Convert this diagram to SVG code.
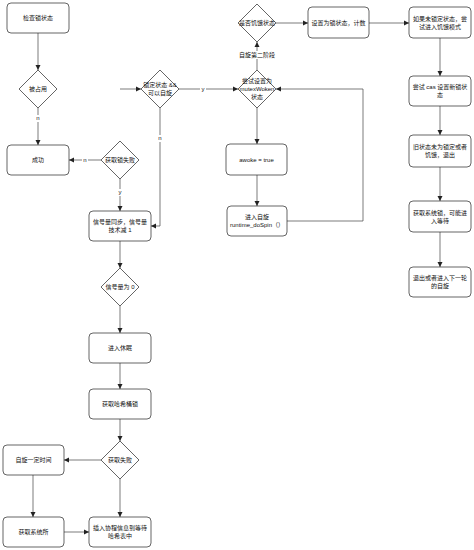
<svg xmlns="http://www.w3.org/2000/svg" width="474" height="550" viewBox="0 0 474 550">
<defs>
<marker id="ah" markerWidth="6" markerHeight="6" refX="5" refY="3" orient="auto" markerUnits="userSpaceOnUse"><path d="M0,0.5 L5,3 L0,5.5 Z" fill="#222"/></marker>
<style>
.box{fill:#fff;stroke:#222;stroke-width:0.7}
.dia{fill:#fff;stroke:#222;stroke-width:0.7}
.t{font-family:'Liberation Sans','Noto Sans CJK SC',sans-serif;font-size:6px;fill:#111;text-anchor:middle;dominant-baseline:central}
.ln{fill:none;stroke:#444;stroke-width:0.7;marker-end:url(#ah)}
.lb{fill:#fff}
</style>
</defs>
<rect width="474" height="550" fill="#fff"/>
<g id="connectors">
<path class="ln" d="M38,33 V70"/>
<path class="ln" d="M38,108 V145"/>
<path class="ln" d="M120,89 H141"/>
<path class="ln" d="M179,89 H238"/>
<path class="ln" d="M160,108 V226 H151"/>
<path class="ln" d="M101,160 H69"/>
<path class="ln" d="M120,179 V211"/>
<path class="ln" d="M257,70 V42"/>
<path class="ln" d="M276,23 H308"/>
<path class="ln" d="M369,23 H409"/>
<path class="ln" d="M440,38 V76"/>
<path class="ln" d="M440,106 V135"/>
<path class="ln" d="M440,167 V201"/>
<path class="ln" d="M440,232 V267"/>
<path class="ln" d="M257,108 V144"/>
<path class="ln" d="M257,175 V206"/>
<path class="ln" d="M287,221 H363 V89 H276"/>
<path class="ln" d="M120,241 V268"/>
<path class="ln" d="M120,306 V333"/>
<path class="ln" d="M120,363 V389"/>
<path class="ln" d="M120,419 V441"/>
<path class="ln" d="M101,460 H64"/>
<path class="ln" d="M120,479 V517"/>
<path class="ln" d="M33,475 V517"/>
<path class="ln" d="M64,532 H89"/>
<rect class="lb" x="35" y="115" width="6" height="7"/><text class="t" x="38" y="118">n</text>
<rect class="lb" x="200" y="86" width="6" height="7"/><text class="t" x="203" y="89">y</text>
<rect class="lb" x="157" y="135" width="6" height="7"/><text class="t" x="160" y="138">n</text>
<rect class="lb" x="82" y="157" width="6" height="7"/><text class="t" x="85" y="160">n</text>
<rect class="lb" x="117" y="189" width="6" height="7"/><text class="t" x="120" y="192">y</text>
<rect class="lb" x="238" y="51" width="38" height="8"/><text class="t" x="257" y="55">自旋第二阶段</text>
</g>
<g id="n1"><rect class="box" x="7" y="3" width="62" height="30" rx="4"/><text class="t" x="38" y="18">检查锁状态</text></g>
<g id="n2"><path class="dia" d="M38,70 L57,89 L38,108 L19,89 Z"/><text class="t" x="38" y="89">被占用</text></g>
<g id="n3"><rect class="box" x="7" y="145" width="62" height="30" rx="4"/><text class="t" x="38" y="160">成功</text></g>
<g id="n4"><path class="dia" d="M120,141 L139,160 L120,179 L101,160 Z"/><text class="t" x="120" y="160">获取锁失败</text></g>
<g id="n5"><rect class="box" x="89" y="211" width="62" height="30" rx="4"/><text class="t" x="120" y="222">信号量同步，信号量</text><text class="t" x="120" y="230">技术减 1</text></g>
<g id="n6"><path class="dia" d="M120,268 L139,287 L120,306 L101,287 Z"/><text class="t" x="120" y="287">信号量为 0</text></g>
<g id="n7"><rect class="box" x="89" y="333" width="62" height="30" rx="4"/><text class="t" x="120" y="348">进入休眠</text></g>
<g id="n8"><rect class="box" x="89" y="389" width="62" height="30" rx="4"/><text class="t" x="120" y="404">获取哈希桶锁</text></g>
<g id="n9"><path class="dia" d="M120,441 L139,460 L120,479 L101,460 Z"/><text class="t" x="120" y="460">获取失败</text></g>
<g id="n10"><rect class="box" x="3" y="445" width="61" height="30" rx="4"/><text class="t" x="33.5" y="460">自旋一定时间</text></g>
<g id="n11"><rect class="box" x="3" y="517" width="61" height="30" rx="4"/><text class="t" x="33.5" y="532">获取系统所</text></g>
<g id="n12"><rect class="box" x="89" y="517" width="62" height="30" rx="4"/><text class="t" x="120" y="528">插入协程信息到等待</text><text class="t" x="120" y="536">哈希表中</text></g>
<g id="n13"><path class="dia" d="M160,70 L179,89 L160,108 L141,89 Z"/><text class="t" x="160" y="85">锁定状态 &amp;&amp;</text><text class="t" x="160" y="93">可以自旋</text></g>
<g id="n14"><path class="dia" d="M257,70 L276,89 L257,108 L238,89 Z"/><text class="t" x="257" y="81">尝试设置为</text><text class="t" x="257" y="89">mutexWoken</text><text class="t" x="257" y="97">状态</text></g>
<g id="n15"><path class="dia" d="M257,4 L276,23 L257,42 L238,23 Z"/><text class="t" x="257" y="23">是否饥饿状态</text></g>
<g id="n16"><rect class="box" x="308" y="7" width="61" height="31" rx="4"/><text class="t" x="338.5" y="22.5">设置为锁状态，计数</text></g>
<g id="n17"><rect class="box" x="409" y="7" width="62" height="31" rx="4"/><text class="t" x="440" y="18.5">如果未锁定状态，尝</text><text class="t" x="440" y="26.5">试进入饥饿模式</text></g>
<g id="n18"><rect class="box" x="409" y="76" width="62" height="30" rx="4"/><text class="t" x="440" y="87">尝试 cas 设置新锁状</text><text class="t" x="440" y="95">态</text></g>
<g id="n19"><rect class="box" x="409" y="135" width="62" height="32" rx="4"/><text class="t" x="440" y="147">旧状态未为锁定或者</text><text class="t" x="440" y="155">饥饿，退出</text></g>
<g id="n20"><rect class="box" x="409" y="201" width="62" height="31" rx="4"/><text class="t" x="440" y="212.5">获取系统锁，可能进</text><text class="t" x="440" y="220.5">入等待</text></g>
<g id="n21"><rect class="box" x="409" y="267" width="62" height="30" rx="4"/><text class="t" x="440" y="278">退出或者进入下一轮</text><text class="t" x="440" y="286">的自旋</text></g>
<g id="n22"><rect class="box" x="226" y="144" width="61" height="31" rx="4"/><text class="t" x="256.5" y="159.5">awoke = true</text></g>
<g id="n23"><rect class="box" x="227" y="206" width="60" height="30" rx="4"/><text class="t" x="257" y="217">进入自旋</text><text class="t" x="257" y="225">runtime_doSpin（）</text></g>
</svg>
